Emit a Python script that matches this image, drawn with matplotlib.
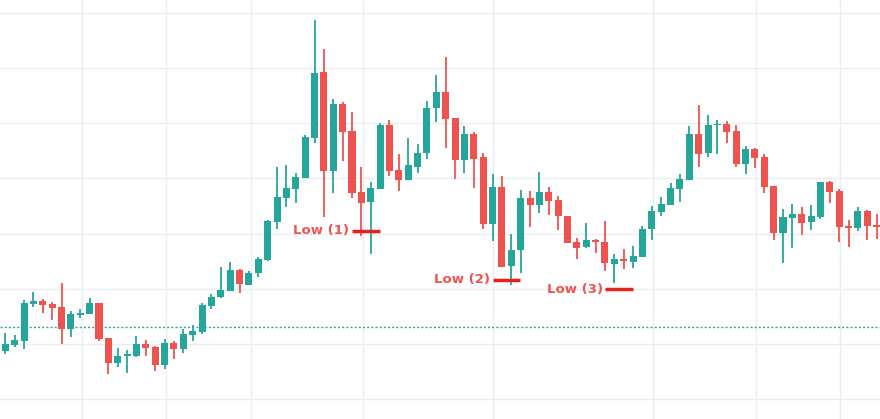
import matplotlib
matplotlib.use("Agg")
import matplotlib.pyplot as plt

# values in chart units (larger = lower on chart; axis is inverted)
opens = [350.7,344.7,340.7,303.7,301,304,307,328.7,314.7,313.7,303,338,362.7,356.3,355.7,344,346.7,364.7,343,348.7,
         334.7,331.7,305.7,297.3,290.7,270,284.7,273.3,260,222,197.7,188.7,177.7,137.7,72,170.7,104,131,192.3,201.7,
         188.7,125,170.3,179.7,166.7,152.7,107.7,92,118,159.7,134,157.3,223.7,187.3,265.7,249.7,198.3,204.7,192,200,
         216,242.3,246.7,240,242,263.7,259,261.7,256.7,228.7,211.7,204.7,189,179.7,134,152.7,125.3,123.7,131,163.7,
         148.7,157,186,233,217.7,214,221.7,217,182,191,226.3,227.7,211,225]
highs = [333.3,335,300,292.3,299,302,283,311,309.3,298,303,338,348.3,350,336,340,345.7,339.3,341.3,329,
         325.3,302.7,294,267.3,262,268.7,270.7,256.7,220,166.7,165,173.3,135.3,20,49,99.3,102.3,112,166.7,182,
         123.3,120,154,138,144,100.7,75,57,118,126,131.7,153.3,174,176,234,190,191.3,172,187,196,
         216,238,223,238.7,221,254.3,248.7,246,226,206,197,183.3,174,126,105,115,120,121,125,146,
         147.7,154,186,209,204,207,205,182,181,188.7,220,207,210,214]
lows = [354.3,346.7,349.3,307.3,313.3,320.3,343.7,337.3,318,313.7,340.7,374.3,366.7,373.3,356.7,355.7,370.7,369.3,359.3,353.3,
        340.7,333.7,308.7,298.3,290.7,292.7,285.3,276.7,261,228.7,206.7,202.7,177.7,142.7,216.7,192.7,160.7,197.7,235.7,254.3,
        188.7,175.7,190.7,179.7,173.3,159.3,121.7,147.7,179.3,173.3,188.3,228.7,241.3,267.3,285.3,272.7,227.3,213.3,215.3,230.3,
        243.3,259.3,248,252.7,271.3,282.7,268.7,267.7,256.7,239.7,215.7,205,201.7,179.7,167,156.7,153.7,142.7,167,173.7,
        168,192.7,240,262.7,247.7,234.7,230,219.3,202.7,241.7,246.7,230.7,239.7,238.7]
closes = [344,340,303.3,301,305,307.7,328.7,314.3,313,303,338.7,362.7,356,354,344,348.3,364.7,343,348.7,334,
          331,305,297,290,270,284.3,273,259.3,221,197.3,188,177.3,137,73,170.7,104,131.7,192.7,202.7,188.3,
          125,170.7,179.7,165,153.3,108,92,118.7,159.7,134,158.7,223.7,187.3,266.7,250,198.3,204.7,192,200.7,215.7,
          242.7,247.7,240,242.3,262.7,259,261.3,256,229,211,204,188,179,134,153.7,125,124,132,163.7,149,
          158,187,233,217,214,222.7,216,182,191.7,226.7,227.7,211,225.7,226.7]

low_labels = ["Low (1)", "Low (2)", "Low (3)"]
low_levels = [230.7, 279.5, 289]
low_line_x = [(37.0, 40.0), (52.05, 54.9), (64.0, 67.0)]
low_text_x = [36.7, 51.7, 63.8]
support_level = 326.5
vgrid_px = [82, 166, 251, 363, 493, 653, 756, 840]
hgrid_y = [13, 68, 123, 178, 234, 289, 344, 399]

UP, DOWN = "#26a69a", "#ef5350"
px0, step = 5.3, 9.37

fig = plt.figure(figsize=(8.8, 4.19), dpi=100)
ax = fig.add_axes([0, 0, 1, 1])
ax.set_xlim(-px0 / step, (880 - px0) / step)
ax.set_ylim(419, 0)
for s in ax.spines.values():
    s.set_visible(False)
ax.set_xticks([])
ax.set_yticks([])

for g in vgrid_px:
    ax.axvline((g - px0) / step, color="#e9eef1", lw=1, zorder=0)
for g in hgrid_y:
    ax.axhline(g, color="#e9eef1", lw=1, zorder=0)

ax.axhline(support_level, color="#26a69a", lw=1, ls=(0, (1.5, 1.5)), zorder=1)

for i, (o, h, l, c) in enumerate(zip(opens, highs, lows, closes)):
    col = UP if c <= o else DOWN
    ax.vlines(i, h, l, color=col, lw=1.3, zorder=2)
    top, bot = min(o, c), max(o, c)
    ax.bar(i, max(bot - top, 1.2), bottom=top, width=0.75, color=col, zorder=3)

for lab, lv, (x1, x2), tx in zip(low_labels, low_levels, low_line_x, low_text_x):
    ax.plot([x1, x2], [lv, lv], color="#e8201e", lw=2.5, zorder=4, solid_capstyle="butt")
    ax.text(tx, lv, lab, color="#ef5350", fontsize=9.5, fontweight="bold",
            ha="right", va="center", family="DejaVu Sans", zorder=4)

fig.savefig("out.png", dpi=100)
